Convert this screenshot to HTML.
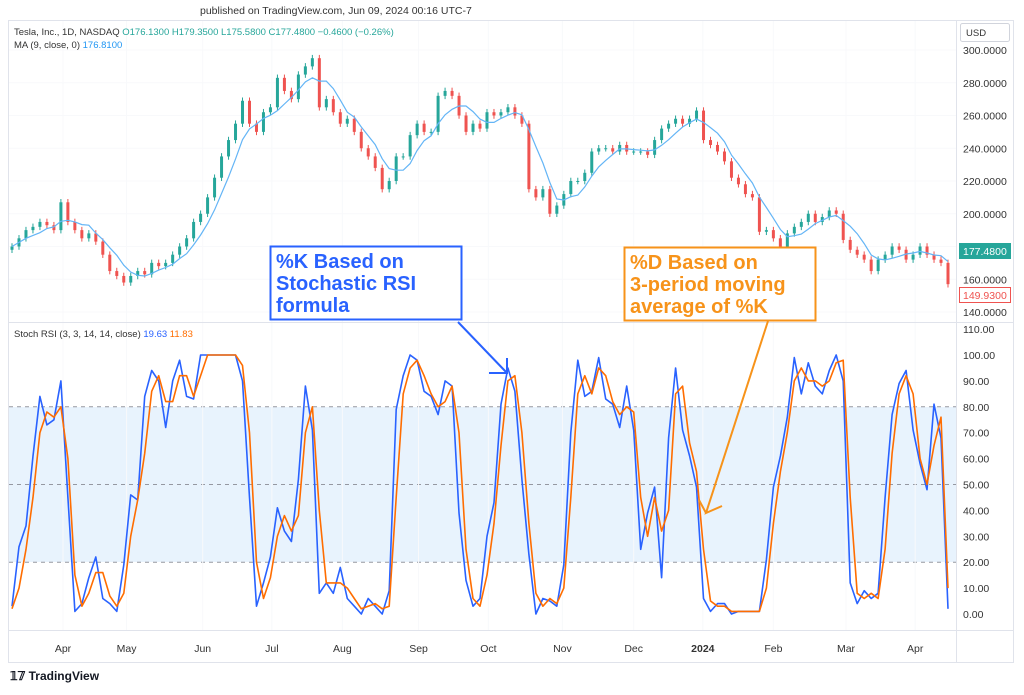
<!DOCTYPE html>
<html><head><meta charset="utf-8">
<style>
body{margin:0;width:1024px;height:690px;background:#fff;overflow:hidden;font-family:"Liberation Sans",sans-serif;}
svg text{font-family:"Liberation Sans",sans-serif;}
</style></head>
<body>
<svg id="c" width="1024" height="690" viewBox="0 0 1024 690">
<text x="200" y="14" font-size="10.5" fill="#333">published on TradingView.com, Jun 09, 2024 00:16 UTC-7</text>
<rect x="8.5" y="20.5" width="1005" height="642" fill="none" stroke="#e0e3eb"/>
<rect x="9" y="407" width="947" height="155" fill="#e8f3fd"/>
<g id="grid"></g>
<line x1="956.5" y1="20" x2="956.5" y2="662" stroke="#e0e3eb"/>
<line x1="8" y1="322.5" x2="1014" y2="322.5" stroke="#e0e3eb"/>
<line x1="8" y1="630.5" x2="1014" y2="630.5" stroke="#e0e3eb"/>
<g id="candles"></g><g id="ma"></g><g id="stoch"></g><g id="axes"></g>
<text x="14" y="35" font-size="9.5" fill="#333">Tesla, Inc., 1D, NASDAQ  <tspan fill="#26a69a">O176.1300  H179.3500  L175.5800  C177.4800  −0.4600 (−0.26%)</tspan></text>
<text x="14" y="48" font-size="9.5" fill="#333">MA (9, close, 0)  <tspan fill="#2196f3">176.8100</tspan></text>
<text x="14" y="337" font-size="9.5" fill="#333">Stoch RSI (3, 3, 14, 14, close)  <tspan fill="#2962ff">19.63</tspan>  <tspan fill="#ff6d00">11.83</tspan></text>
<rect x="960.5" y="23.5" width="49" height="18" rx="2" fill="#fff" stroke="#d1d4dc"/>
<text x="966" y="36" font-size="9.5" fill="#333">USD</text>
<rect x="959" y="243" width="52" height="16" fill="#26a69a"/>
<text x="963" y="255" font-size="10.5" fill="#fff">177.4800</text>
<rect x="959.5" y="287.5" width="51" height="15" fill="#fff" stroke="#ef5350"/>
<text x="963" y="299" font-size="10.5" fill="#ef5350">149.9300</text>
<rect x="270.5" y="246.5" width="191" height="73" fill="#fff" stroke="#2962ff" stroke-width="2"/>
<text font-size="20" font-weight="bold" fill="#2962ff"><tspan x="276" y="268">%K Based on</tspan><tspan x="276" y="290">Stochastic RSI</tspan><tspan x="276" y="312">formula</tspan></text>
<path d="M458 322 L507 373 M489 373 L507 373 L507 358" fill="none" stroke="#2962ff" stroke-width="2"/>
<rect x="624.5" y="247.5" width="191" height="73" fill="#fff" stroke="#f7931a" stroke-width="2"/>
<text font-size="20" font-weight="bold" fill="#f7931a"><tspan x="630" y="269">%D Based on</tspan><tspan x="630" y="291">3-period moving</tspan><tspan x="630" y="313">average of %K</tspan></text>
<path d="M768 321 L706 513 L722 506 M706 513 L699 500" fill="none" stroke="#f7931a" stroke-width="2"/>
<text x="10" y="680" font-size="12" font-weight="bold" fill="#131722">𝟙𝟟 TradingView</text>
</svg>
<script>
const closes=[180,185,190,192,195,193,190,207,195,190,185,188,183,175,165,162,158,162,165,163,170,168,170,175,180,185,195,200,210,222,235,245,255,269,255,250,262,265,283,275,270,285,290,295,265,270,262,255,258,250,240,235,228,215,220,235,235,248,255,250,250,272,275,272,260,250,255,252,262,260,262,265,260,255,215,210,215,200,205,212,220,220,225,238,240,240,238,242,238,238,238,236,245,252,255,258,255,258,263,245,242,238,232,222,218,212,210,189,190,185,178,188,192,195,200,195,198,202,200,184,178,175,172,165,172,175,180,178,172,175,180,175,172,170,157];
const kVals=[3,26,34,61,84,73,75,90,45,1,4,14,22,6,4,1,19,46,44,84,94,90,72,90,98,84,83,100,100,100,100,100,100,90,45,3,12,22,41,32,28,52,88,71,8,12,8,18,6,3,0,6,3,0,9,79,92,100,98,86,84,77,90,88,39,13,3,
6,30,43,81,95,86,52,23,0,6,5,3,19,70,98,84,86,99,83,81,72,88,71,25,39,49,14,68,95,71,61,49,6,1,4,4,0,1,1,1,1,21,49,61,76,99,85,97,88,85,94,100,90,12,4,9,6,8,45,77,89,94,71,58,48,81,68,2];
const dVals=[2,10,25,45,70,78,76,80,60,15,3,8,16,16,7,3,8,30,44,62,86,92,82,82,92,92,84,92,100,100,100,100,100,96,70,20,6,14,30,38,32,38,70,80,40,12,12,12,10,6,2,3,4,2,3,45,85,95,98,92,85,80,82,88,70,25,6,
3,15,35,65,90,92,70,35,8,3,6,4,10,45,85,92,85,95,92,82,77,80,78,45,30,45,32,40,85,88,66,55,25,5,3,3,1,1,1,1,1,10,35,55,70,90,95,90,90,88,90,97,98,45,8,6,8,6,25,62,85,92,85,60,50,65,76,10];
const priceTicks=[300,280,260,240,220,200,180,160,140];
const stochTicks=[110,100,90,80,70,60,50,40,30,20,10,0];
const monthLabels=["Apr","May","Jun","Jul","Aug","Sep","Oct","Nov","Dec","2024","Feb","Mar","Apr"];
const monthIdx=[7.3,16.4,27.3,37.2,47.3,58.2,68.2,78.8,89,98.9,109,119.4,129.3];

const NS="http://www.w3.org/2000/svg";
const X0=12,X1=948;
const xs=i=>X0+i*(X1-X0)/(closes.length-1);
const yP=p=>50+(300-p)*1.6375;
const yS=v=>614-v*2.59;
function mk(tag,attrs,parent){const e=document.createElementNS(NS,tag);for(const k in attrs)e.setAttribute(k,attrs[k]);document.getElementById(parent).appendChild(e);return e;}

priceTicks.forEach(t=>{
  const g=mk('line',{x1:9,x2:956,y1:yP(t),y2:yP(t),stroke:'#f8f9fb'},'grid');
  
  
  const l=mk('text',{x:963,y:yP(t)+4,'font-size':10.5,fill:'#333'},'axes');
  l.textContent=t.toFixed(4);
  
  
});
stochTicks.forEach(t=>{
  const l=mk('text',{x:963,y:yS(t)+4,'font-size':10.5,fill:'#333'},'axes');
  l.textContent=t.toFixed(2);
  
  
});
[80,50,20].forEach(t=>{
  const g=mk('line',{x1:9,x2:956,y1:yS(t),y2:yS(t),stroke:'#9598a1','stroke-dasharray':'4 4'},'grid');
  
  
});
monthLabels.forEach((m,i)=>{
  const x=xs(monthIdx[i]);
  const g=mk('line',{x1:x,x2:x,y1:21,y2:630,stroke:'#f8f9fb'},'grid');
  
  
  const l=mk('text',{x:x,y:652,'font-size':10.5,fill:'#333','text-anchor':'middle','font-weight':m==='2024'?'bold':'normal'},'axes');
  l.textContent=m;
  
  
});
closes.forEach((c,i)=>{
  const o=i?closes[i-1]:c-2;
  const up=c>=o,col=up?'#26a69a':'#ef5350',x=xs(i);
  const hi=Math.max(o,c)+2,lo=Math.min(o,c)-2;
  const w=mk('line',{x1:x,x2:x,y1:yP(hi),y2:yP(lo),stroke:col},'candles');
  
  
  const top=yP(Math.max(o,c)),h=Math.max(1,Math.abs(yP(o)-yP(c)));
  const b=mk('rect',{x:x-1.5,y:top,width:3,height:h,fill:col},'candles');
  
  
});
let ma='';
closes.forEach((c,i)=>{const s=closes.slice(Math.max(0,i-4),i+1);const a=s.reduce((p,q)=>p+q,0)/s.length;ma+=(i?'L':'M')+xs(i).toFixed(1)+' '+yP(a).toFixed(1);});
const maP=mk('path',{d:ma,fill:'none',stroke:'#64b5f6','stroke-width':1.2},'ma');


function line(arr,col,name){
  let d='';arr.forEach((v,i)=>{d+=(i?'L':'M')+xs(i).toFixed(1)+' '+yS(v).toFixed(1);});
  const p=mk('path',{d:d,fill:'none',stroke:col,'stroke-width':1.6,'stroke-linejoin':'round'},'stoch');
  
  
}
line(kVals,'#2962ff','k-line');
line(dVals,'#ff6d00','d-line');
</script>
</body></html>
